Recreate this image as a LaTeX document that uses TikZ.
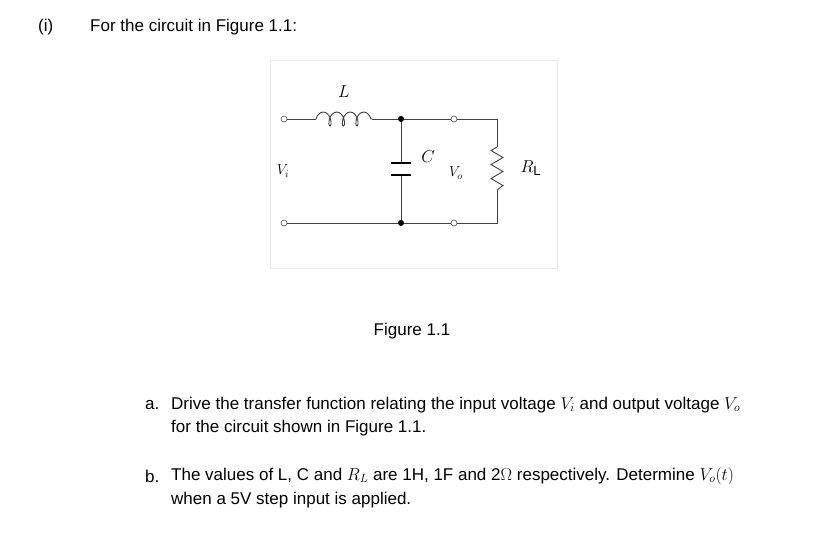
\documentclass[tikz,border=0pt]{standalone}
\usepackage{fontspec}
\setmainfont{Liberation Sans}
\usetikzlibrary{decorations.pathmorphing}
\begin{document}
\begin{tikzpicture}[x=1pt,y=-1pt,
  wire/.style={draw=black!75,line width=0.9pt},
  term/.style={circle,draw=black!70,fill=white,inner sep=0pt,minimum size=6pt,line width=0.6pt},
  dot/.style={circle,fill=black,inner sep=0pt,minimum size=6pt},
  txt/.style={anchor=west,inner sep=0pt,font=\fontsize{17}{20}\selectfont},
  lab/.style={inner sep=0pt,font=\fontsize{17}{20}\selectfont}]
\useasboundingbox (0,0) rectangle (835,542);
\draw[black!8,line width=0.8pt] (270,60) rectangle (557,268);
% nodes
\node[term] (t1) at (284,119) {};
\node[term] (t2) at (284,223) {};
\node[term] (t3) at (454,119) {};
\node[term] (t4) at (454,223) {};
\node[dot] (j1) at (401,119) {};
\node[dot] (j2) at (401,223) {};
\coordinate (l1) at (316,119);
\coordinate (l2) at (372,119);
\coordinate (c1) at (401,163);
\coordinate (c2) at (401,175);
\coordinate (r0) at (497,119);
\coordinate (r1) at (497,147);
\coordinate (r2) at (497,190);
\coordinate (r3) at (497,223);
% wires
\draw[wire] (t1) -- (l1);
\draw[wire,decorate,decoration={coil,aspect=0.55,segment length=13.5pt,amplitude=7pt,pre length=0pt,post length=0pt}] (l1) -- (l2);
\draw[wire] (l2) -- (j1) -- (t3) -- (r0) -- (r1);
\draw[wire] (r1) -- ++(-6,3.5) -- ++(12,7) -- ++(-12,7) -- ++(12,7) -- ++(-12,7) -- ++(12,7) -- (r2);
\draw[wire] (r2) -- (r3) -- (t4) -- (j2) -- (t2);
\draw[wire] (j1) -- (c1);
\draw[wire] (j2) -- (c2);
\draw[black,line width=2.2pt] (391,163) -- (411,163) (391,175) -- (411,175);
% labels
\node[lab] (lL) at (344,92) {\fontsize{19}{20}\selectfont$L$};
\node[lab] (lC) at (428,157) {\fontsize{19}{20}\selectfont$C$};
\node[lab] (lRL) at (531,168) {\fontsize{19}{20}\selectfont$R_{\mathrm{L}}$};
\node[lab] (lVi) at (283,171) {\fontsize{14}{16}\selectfont$V_i$};
\node[lab] (lVo) at (456,173) {\fontsize{14}{16}\selectfont$V_o$};
% text
\node[txt] (n0) at (38,27) {(i)};
\node[txt] (n1) at (90,27) {For the circuit in Figure 1.1:};
\node[lab] (fig) at (412,331) {Figure 1.1};
\node[txt] (a) at (145,405) {a.};
\node[txt] (a1) at (171,405) {Drive the transfer function relating the input voltage $V_i$ and output voltage $V_o$};
\node[txt] (a2) at (171,428) {for the circuit shown in Figure 1.1.};
\node[txt] (b) at (145,476) {b.};
\node[txt] (b1) at (171,476) {The values of L, C and $R_L$ are 1H, 1F and 2$\Omega$ respectively. Determine $V_o(t)$};
\node[txt] (b2) at (171,500) {when a 5V step input is applied.};
\end{tikzpicture}
\end{document}
